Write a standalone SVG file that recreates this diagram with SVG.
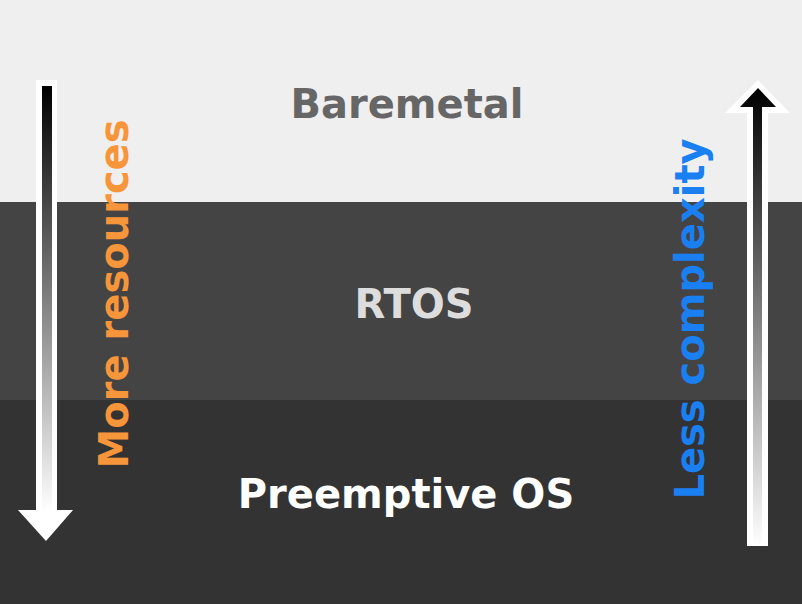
<svg xmlns="http://www.w3.org/2000/svg" width="802" height="604" viewBox="0 0 802 604">
<defs>
<linearGradient id="gd" x1="0" y1="0" x2="0" y2="1"><stop offset="0" stop-color="#000"/><stop offset="1" stop-color="#fff"/></linearGradient>
<linearGradient id="gu" x1="0" y1="1" x2="0" y2="0"><stop offset="0" stop-color="#fff"/><stop offset="1" stop-color="#000"/></linearGradient>
<style>text{font-family:"DejaVu Sans",Verdana,sans-serif;font-weight:bold;text-anchor:middle}</style>
</defs>
<rect width="802" height="202" fill="#efefef"/>
<rect y="202" width="802" height="198" fill="#444"/>
<rect y="400" width="802" height="204" fill="#333"/>
<g id="baremetal"><text x="407" y="118" font-size="40" fill="#666">Baremetal</text></g>
<g id="rtos"><text x="414" y="318" font-size="40" fill="#ddd">RTOS</text></g>
<g id="preemptive"><text x="406" y="508" font-size="40" fill="#fff">Preemptive OS</text></g>
<g id="more"><text transform="translate(128,294) rotate(-90)" font-size="40" fill="#f7953a">More resources</text></g>
<g id="less"><text transform="translate(704,319) rotate(-90)" font-size="40" fill="#1a7ff0">Less complexity</text></g>
<g id="connectors">
<path d="M36 80H57V510H73L46 541L18 510H36Z" fill="#fff"/>
<path d="M42 86H52V512H42Z" fill="url(#gd)"/>
<path d="M747 546H768V113H790L758 80L725 113H747Z" fill="#fff"/>
<path d="M753 546H762V107H776L758 88L740 107H753Z" fill="url(#gu)"/>
</g>
</svg>
